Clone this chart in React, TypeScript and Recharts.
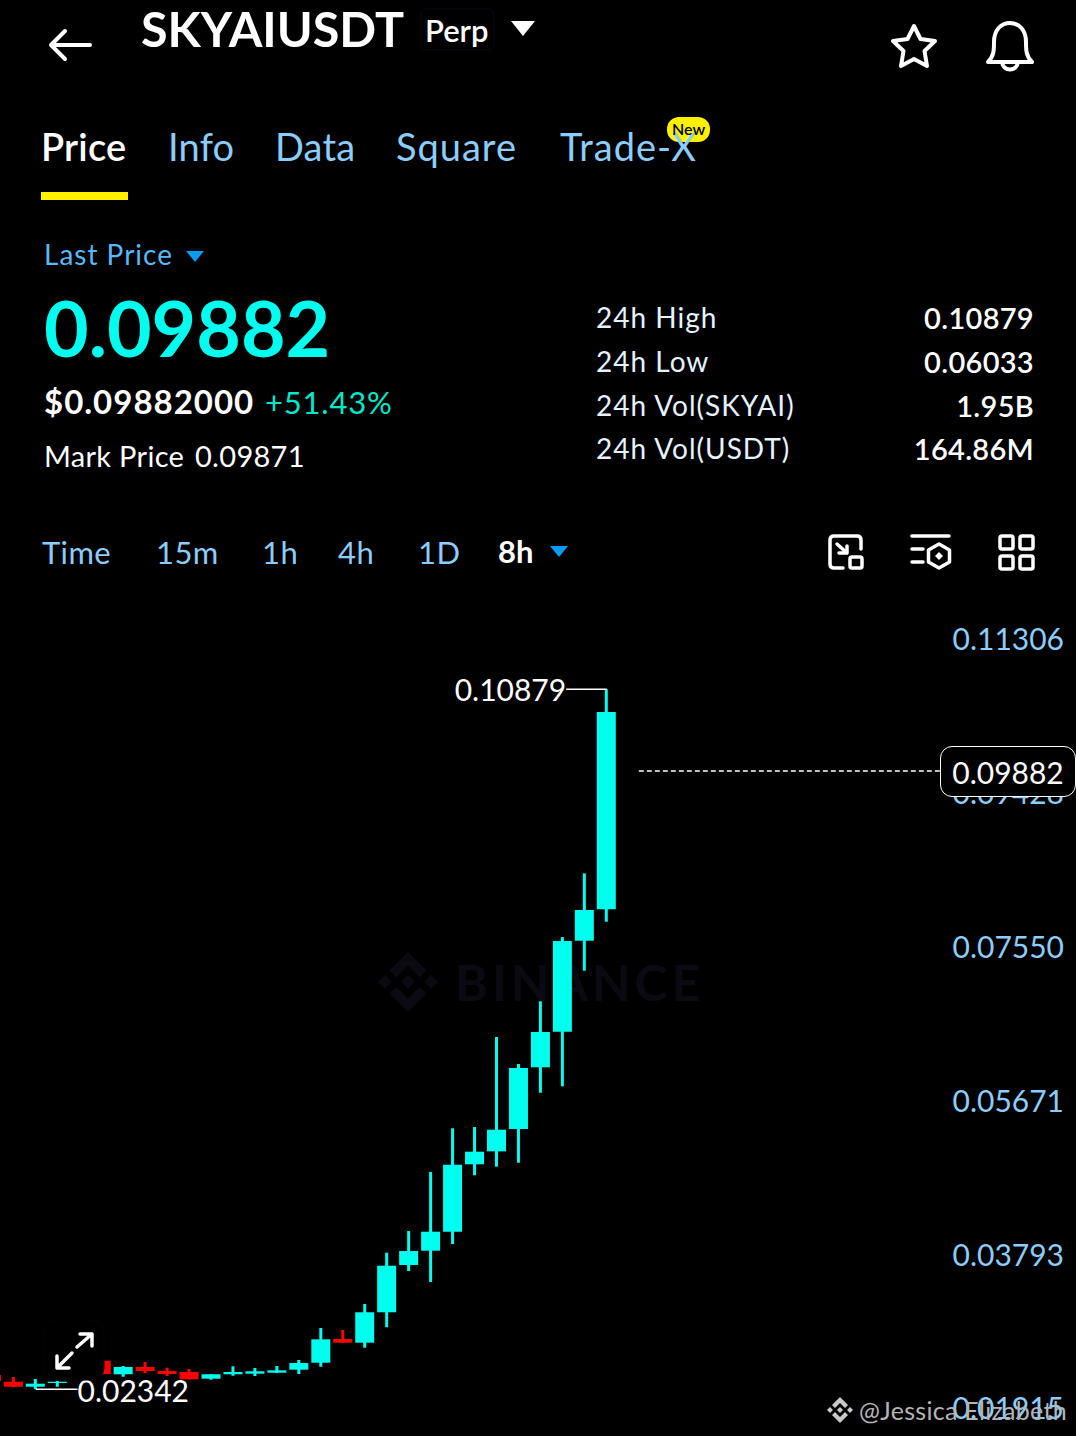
import {
  Bar,
  Cell,
  ComposedChart,
  ReferenceDot,
  ReferenceLine,
  XAxis,
  YAxis,
} from "recharts";

const opens = [
  0.02515, 0.02433, 0.02372, 0.02417, 0.02478, 0.02689, 0.02524, 0.02613, 0.02564, 0.02552,
  0.0247, 0.02524, 0.02531, 0.02543, 0.0258, 0.02665, 0.02954, 0.02909, 0.0328, 0.03857,
  0.04031, 0.04263, 0.05085, 0.05243, 0.05515, 0.06268, 0.06702, 0.07812, 0.08195,
];
const closes = [
  0.02442, 0.02372, 0.02409, 0.02433, 0.02527, 0.02527, 0.02613, 0.02564, 0.02527, 0.02462,
  0.02524, 0.02552, 0.0256, 0.02572, 0.02661, 0.0295, 0.02909, 0.0328, 0.03848, 0.04027,
  0.04263, 0.0508, 0.05239, 0.05507, 0.06259, 0.06699, 0.07809, 0.08187, 0.10602,
];
const highs = [
  0.02539, 0.02491, 0.02466, 0.02442, 0.02576, 0.02713, 0.02625, 0.02674, 0.02604, 0.02588,
  0.02524, 0.02621, 0.026, 0.02625, 0.02698, 0.03088, 0.03064, 0.03381, 0.04007, 0.04271,
  0.04991, 0.05524, 0.0554, 0.06638, 0.06308, 0.07073, 0.07857, 0.08634, 0.10879,
];
const lows = [
  0.02417, 0.02369, 0.02342, 0.02372, 0.02466, 0.02515, 0.02494, 0.02539, 0.02503, 0.02462,
  0.02458, 0.02506, 0.02503, 0.02539, 0.02527, 0.02616, 0.02909, 0.02848, 0.03097, 0.03783,
  0.03649, 0.04113, 0.04951, 0.05056, 0.05104, 0.05958, 0.06036, 0.07446, 0.08044,
];
const priceTicks = [0.11306, 0.09428, 0.0755, 0.05671, 0.03793, 0.01915];
const tabs = ["Info", "Data", "Square", "Trade-X"];
const tabLefts = [168, 275, 396, 560];
const tabSpacing = [0.2, 0.2, 1, 1];
const intervals = ["Time", "15m", "1h", "4h", "1D"];
const intervalLefts = [42, 156, 262, 338, 418];
const statLabels = ["24h High", "24h Low", "24h Vol(SKYAI)", "24h Vol(USDT)"];
const statValues = ["0.10879", "0.06033", "1.95B", "164.86M"];
const lastPrice = 0.09882;
const high24 = 0.10879;
const low24 = 0.02342;

const UP = "#00ffee";
const DOWN = "#ff0000";
const BLUE = "#8ccdfb";
const FONT = "Lato, sans-serif";
const xDomain = [0.37, 48.82];

const candles = opens.map((open, i) => ({
  i,
  color: closes[i] < open ? DOWN : UP,
  wick: [lows[i], highs[i]],
  body: [Math.min(open, closes[i]), Math.max(open, closes[i])],
}));

function T({ x, y, size, color = "#fff", weight = 400, right, spacing, children }: any) {
  return (
    <div
      style={{
        position: "absolute",
        left: right === undefined ? x : undefined,
        right: right === undefined ? undefined : 1076 - right,
        top: y - 1,
        transform: "translateY(-50%)",
        fontFamily: FONT,
        fontSize: size,
        fontWeight: weight,
        color,
        lineHeight: 1,
        letterSpacing: spacing,
        whiteSpace: "nowrap",
      }}
    >
      {children}
    </div>
  );
}

function Logo({ cx, cy, r, fill }: any) {
  const s = r / 13;
  const d = (x: number, y: number, h: number) =>
    `${cx + x * s},${cy + (y - h) * s} ${cx + (x + h) * s},${cy + y * s} ${cx + x * s},${cy + (y + h) * s} ${cx + (x - h) * s},${cy + y * s}`;
  return (
    <g fill={fill}>
      <polygon points={d(0, 0, 3)} />
      <polygon points={d(-10, 0, 3)} />
      <polygon points={d(10, 0, 3)} />
      <path d={`M${cx},${cy - 13 * s} L${cx + 8 * s},${cy - 5 * s} L${cx + 5 * s},${cy - 2 * s} L${cx},${cy - 7 * s} L${cx - 5 * s},${cy - 2 * s} L${cx - 8 * s},${cy - 5 * s} Z`} />
      <path d={`M${cx},${cy + 13 * s} L${cx + 8 * s},${cy + 5 * s} L${cx + 5 * s},${cy + 2 * s} L${cx},${cy + 7 * s} L${cx - 5 * s},${cy + 2 * s} L${cx - 8 * s},${cy + 5 * s} Z`} />
    </g>
  );
}

// labels sit above their price level, as in the app
function PriceTick({ x, y, payload }: any) {
  return (
    <text x={x} y={y - 15.5} dy="0.36em" textAnchor="end" fill={BLUE} fontFamily={FONT} fontSize={30}>
      {payload.value.toFixed(5)}
    </text>
  );
}

function Chart() {
  return (
    <div style={{ position: "absolute", left: 0, top: 620 }}>
      <ComposedChart
        width={1076}
        height={816}
        data={candles}
        margin={{ top: 0, right: 0, bottom: 0, left: 0 }}
      >
        <XAxis xAxisId="wick" dataKey="i" type="number" domain={xDomain} allowDataOverflow hide />
        <XAxis xAxisId="body" dataKey="i" type="number" domain={xDomain} allowDataOverflow hide />
        <YAxis
          yAxisId="price"
          orientation="right"
          width={12}
          type="number"
          domain={[0.01771, 0.11724]}
          ticks={priceTicks}
          interval={0}
          axisLine={false}
          tickLine={false}
          tickSize={0}
          tickMargin={0}
          tick={PriceTick}
        />
        <Bar xAxisId="wick" yAxisId="price" dataKey="wick" barSize={3} isAnimationActive={false}>
          {candles.map((c) => (
            <Cell key={c.i} fill={c.color} />
          ))}
        </Bar>
        <Bar xAxisId="body" yAxisId="price" dataKey="body" barSize={19} isAnimationActive={false}>
          {candles.map((c) => (
            <Cell key={c.i} fill={c.color} />
          ))}
        </Bar>
        <ReferenceLine
          xAxisId="wick"
          yAxisId="price"
          segment={[
            { x: 29.46, y: lastPrice },
            { x: 43.2, y: lastPrice },
          ]}
          stroke="#fff"
          strokeWidth={1.5}
          strokeDasharray="5 3"
        />
        <ReferenceLine
          xAxisId="wick"
          yAxisId="price"
          segment={[
            { x: 26.15, y: high24 },
            { x: 28, y: high24 },
          ]}
          stroke="#fff"
          strokeWidth={1.5}
        />
        <ReferenceDot
          xAxisId="wick"
          yAxisId="price"
          x={26.15}
          y={high24}
          r={0}
          label={{ value: high24.toFixed(5), position: "left", offset: 0, dy: 1, fill: "#fff", fontSize: 30, fontFamily: FONT }}
        />
        <ReferenceLine
          xAxisId="wick"
          yAxisId="price"
          segment={[
            { x: 2, y: low24 },
            { x: 3.9, y: low24 },
          ]}
          stroke="#fff"
          strokeWidth={1.5}
        />
        <ReferenceDot
          xAxisId="wick"
          yAxisId="price"
          x={3.9}
          y={low24}
          r={0}
          label={{ value: low24.toFixed(5), position: "right", offset: 0, dy: 2, fill: "#fff", fontSize: 30, fontFamily: FONT }}
        />
      </ComposedChart>
    </div>
  );
}

function Icons() {
  const line = { fill: "none", stroke: "#fff", strokeWidth: 4, strokeLinecap: "round", strokeLinejoin: "round" } as any;
  const tool = { ...line, strokeWidth: 3.5 };
  return (
    <svg width={1076} height={1436} style={{ position: "absolute", left: 0, top: 0, pointerEvents: "none" }}>
      <path d="M90,45 H51 M65,31 L51,45 L65,59" {...line} />
      <polygon points="914,26 920.5,39 935,41 924.5,51 927,66 914,59 901,66 903.5,51 893,41 907.5,39" {...line} />
      <path d="M988,62 C994,56 994,50 994,42 C994,30 1001,23 1010,23 C1019,23 1026,30 1026,42 C1026,50 1026,56 1032,62 Z M1002,62 C1003,72 1017,72 1018,62" {...line} />
      <rect x={421} y={9} width={73} height={41} rx={5} fill="none" stroke="#080c18" strokeWidth={1} />
      <polygon points="511,21 535,21 523,36" fill="#fff" />
      <rect x={41} y={192} width={87} height={8} fill="#fff000" />
      <rect x={667} y={117} width={43} height={25} rx={12} fill="#fff000" />
      <polygon points="186,251 204,251 195,262" fill="#0a9cf0" />
      <polygon points="550,546 568,546 559,557" fill="#0a9cf0" />
      <path d="M843,568 H834 Q830,568 830,564 V540 Q830,536 834,536 H857 Q861,536 861,540 V549" {...tool} />
      <rect x={850} y={557} width={12} height={11} rx={2} {...tool} />
      <path d="M837,544 L847,553 M847,546 V553 H839" {...tool} />
      <path d="M912,536 H949 M912,549 H923 M912,562 H923" {...tool} />
      <polygon points="939,544 949.5,550 949.5,562 939,568 928.5,562 928.5,550" {...tool} />
      <polygon points="939,552 943,556 939,560 935,556" fill="#fff" />
      {[1000, 1020].map((x) =>
        [536, 556].map((y) => <rect key={`${x}${y}`} x={x} y={y} width={13} height={13} rx={2} {...tool} />),
      )}
      <Logo cx={408} cy={982} r={30} fill="#0b0a12" />
    </svg>
  );
}

function Overlay() {
  return (
    <svg width={1076} height={1436} style={{ position: "absolute", left: 0, top: 0, pointerEvents: "none" }}>
      <rect x={44} y={1320} width={60} height={60} rx={12} fill="#000" stroke="#05050a" strokeWidth={1} />
      <path
        d="M72,1353 L57,1368 M57,1356 V1368 H69 M77,1347 L92,1334 M80,1334 H92 V1346"
        fill="none"
        stroke="#fff"
        strokeWidth={3.5}
        strokeLinecap="round"
        strokeLinejoin="round"
      />
      <Logo cx={840} cy={1410} r={13} fill="#c9c9c9" />
    </svg>
  );
}

export default function App() {
  return (
    <div
      style={{
        position: "absolute",
        left: 0,
        top: 0,
        width: 1076,
        height: 1436,
        background: "#000",
        overflow: "hidden",
      }}
    >
      <Icons />
      <T x={455} y={983} size={50} color="#0b0a12" weight={700} spacing={4}>BINANCE</T>
      <T x={141} y={29} size={48.5} weight={700}>SKYAIUSDT</T>
      <T x={425} y={31} size={31} weight={600}>Perp</T>

      <T x={41} y={147} size={38} weight={600} spacing={0.2}>Price</T>
      {tabs.map((t, i) => (
        <T key={t} x={tabLefts[i]} y={147} size={38} color={BLUE} spacing={tabSpacing[i]}>{t}</T>
      ))}
      <T x={672} y={130} size={16} color="#000" weight={600}>New</T>

      <T x={44} y={255} size={28} color="#58b8f8" spacing={1}>Last Price</T>
      <T x={44} y={328} size={77} color={UP} weight={700}>0.09882</T>
      <T x={44} y={402} size={33} weight={700} spacing={1}>$0.09882000</T>
      <T x={265} y={403} size={31} color="#00e8cc" spacing={0.8}>+51.43%</T>
      <T x={44} y={456} size={29} spacing={0.3}>Mark Price</T>
      <T x={195} y={456} size={29} spacing={0.3}>0.09871</T>

      {statLabels.map((s, i) => (
        <T key={s} x={596} y={318 + i * 43.8} size={28} color="#e6f4ff" spacing={1}>{s}</T>
      ))}
      {statValues.map((s, i) => (
        <T key={s} right={1034} y={318 + i * 43.8} size={29} weight={600} spacing={0.3}>{s}</T>
      ))}

      {intervals.map((t, i) => (
        <T key={t} x={intervalLefts[i]} y={553} size={31} color={BLUE} spacing={0.4}>{t}</T>
      ))}
      <T x={498} y={552} size={31} weight={700}>8h</T>

      <Chart />
      <Overlay />

      <div
        style={{
          position: "absolute",
          left: 940,
          top: 746,
          width: 134,
          height: 49,
          border: "1.5px solid #fff",
          borderRadius: 12,
          background: "#000",
          color: "#fff",
          fontFamily: FONT,
          fontSize: 30,
          lineHeight: "51px",
          textAlign: "center",
        }}
      >
        {lastPrice.toFixed(5)}
      </div>
      <T x={859} y={1411} size={25} color="#b5b5b5" spacing={0.3}>@Jessica Elizabeth</T>
    </div>
  );
}
